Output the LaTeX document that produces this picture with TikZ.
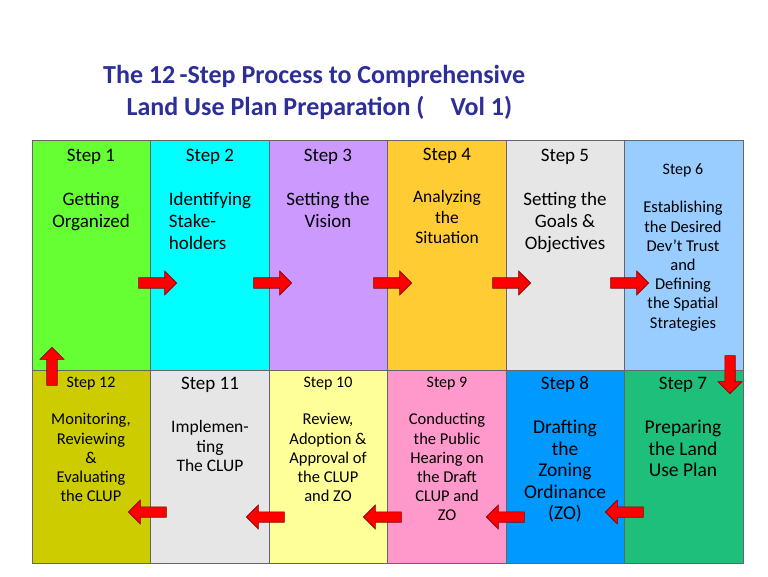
\documentclass[tikz,border=0pt]{standalone}
\usepackage{fontspec}
\setmainfont{Carlito}
\usetikzlibrary{shapes.arrows}
\definecolor{ttl}{HTML}{2E2E99}
\tikzset{
 cell/.style={draw=black!60, line width=0.4pt},
 lbl/.style={align=center, font=\fontsize{19}{21}\selectfont},
 ds/.style={align=center, font=\fontsize{19}{22}\selectfont},
 ra/.style={single arrow, fill=red, draw=red!50!black, line width=0.6pt, minimum height=38pt, minimum width=24pt, single arrow head extend=3pt, inner sep=2pt},
}
\begin{document}
\begin{tikzpicture}[x=1pt,y=-1pt]
\useasboundingbox (0,0) rectangle (768,576);
\fill[white] (0,0) rectangle (768,576);
\node[font=\bfseries\fontsize{26}{32}\selectfont, text=ttl, align=left, anchor=west, inner sep=0pt] (title) at (103,92) {The 12\,-Step Process to Comprehensive\\ \hspace*{0.9em}Land Use Plan Preparation (\quad Vol\ 1)};
\foreach \i/\c in {0/66FF33,1/00FFFF,2/CC99FF,3/FFCC33,4/E6E6E6,5/99CCFF}{
 \definecolor{cc}{HTML}{\c}
 \filldraw[cell, fill=cc] (32+118.5*\i,140) rectangle (32+118.5*\i+118.5,370);}
\foreach \i/\c in {0/CCCC00,1/E6E6E6,2/FFFF99,3/FF99CC,4/0099FF,5/1DBF7A}{
 \definecolor{cc}{HTML}{\c}
 \filldraw[cell, fill=cc] (32+118.5*\i,370) rectangle (32+118.5*\i+118.5,563);}
\draw[black!60] (32,140) rectangle (743,563);
\node[lbl] (s1) at (91,157) {Step 1};
\node[lbl] (s2) at (210,157) {Step 2};
\node[lbl] (s3) at (328,157) {Step 3};
\node[lbl] (s4) at (447,156) {Step 4};
\node[lbl] (s5) at (565,157) {Step 5};
\node[lbl, font=\fontsize{16}{18}\selectfont] (s6) at (683,170) {Step 6};
\node[ds, anchor=north] (d1) at (91,189) {Getting\\Organized};
\node[ds, anchor=north, align=left] (d2) at (210,189) {Identifying\\Stake-\\holders};
\node[ds, anchor=north] (d3) at (328,189) {Setting the\\Vision};
\node[ds, anchor=north, font=\fontsize{17.5}{20.5}\selectfont] (d4) at (447,187) {Analyzing\\the\\Situation};
\node[ds, anchor=north] (d5) at (565,189) {Setting the\\Goals \&\\Objectives};
\node[ds, anchor=north, font=\fontsize{16.5}{19.2}\selectfont] (d6) at (683,198) {Establishing\\the Desired\\Dev't Trust\\and\\Defining\\the Spatial\\Strategies};
\node[lbl, font=\fontsize{16}{18}\selectfont] (s12) at (91,384) {Step 12};
\node[lbl] (s11) at (210,385) {Step 11};
\node[lbl, font=\fontsize{16}{18}\selectfont] (s10) at (328,384) {Step 10};
\node[lbl, font=\fontsize{16}{18}\selectfont] (s9) at (447,384) {Step 9};
\node[lbl] (s8) at (565,385) {Step 8};
\node[lbl] (s7) at (683,385) {Step 7};
\node[ds, anchor=north, font=\fontsize{16.5}{19.2}\selectfont] (d12) at (91,410) {Monitoring,\\Reviewing\\\&\\Evaluating\\the CLUP};
\node[ds, anchor=north, font=\fontsize{17.5}{19.5}\selectfont] (d11) at (210,417) {Implemen-\\ting\\The CLUP};
\node[ds, anchor=north, font=\fontsize{16.5}{19.2}\selectfont] (d10) at (328,410) {Review,\\Adoption \&\\Approval of\\the CLUP\\and ZO};
\node[ds, anchor=north, font=\fontsize{16.5}{19.2}\selectfont] (d9) at (447,410) {Conducting\\the Public\\Hearing on\\the Draft\\CLUP and\\ZO};
\node[ds, anchor=north, font=\fontsize{19.5}{21.5}\selectfont] (d8) at (565,417) {Drafting\\the\\Zoning\\Ordinance\\(ZO)};
\node[ds, anchor=north, font=\fontsize{19.5}{21.5}\selectfont] (d7) at (683,417) {Preparing\\the Land\\Use Plan};
\foreach \x in {155,270,390,509,627}{\node[ra] at (\x,283) {};}
\node[ra, shape border rotate=270] (dn) at (730,372) {};
\node[ra, shape border rotate=90] (up) at (52,369) {};
\foreach \x/\y in {627/512,508/517,385/517,268/517,150/512}{\node[ra, shape border rotate=180] at (\x,\y) {};}
\end{tikzpicture}
\end{document}
